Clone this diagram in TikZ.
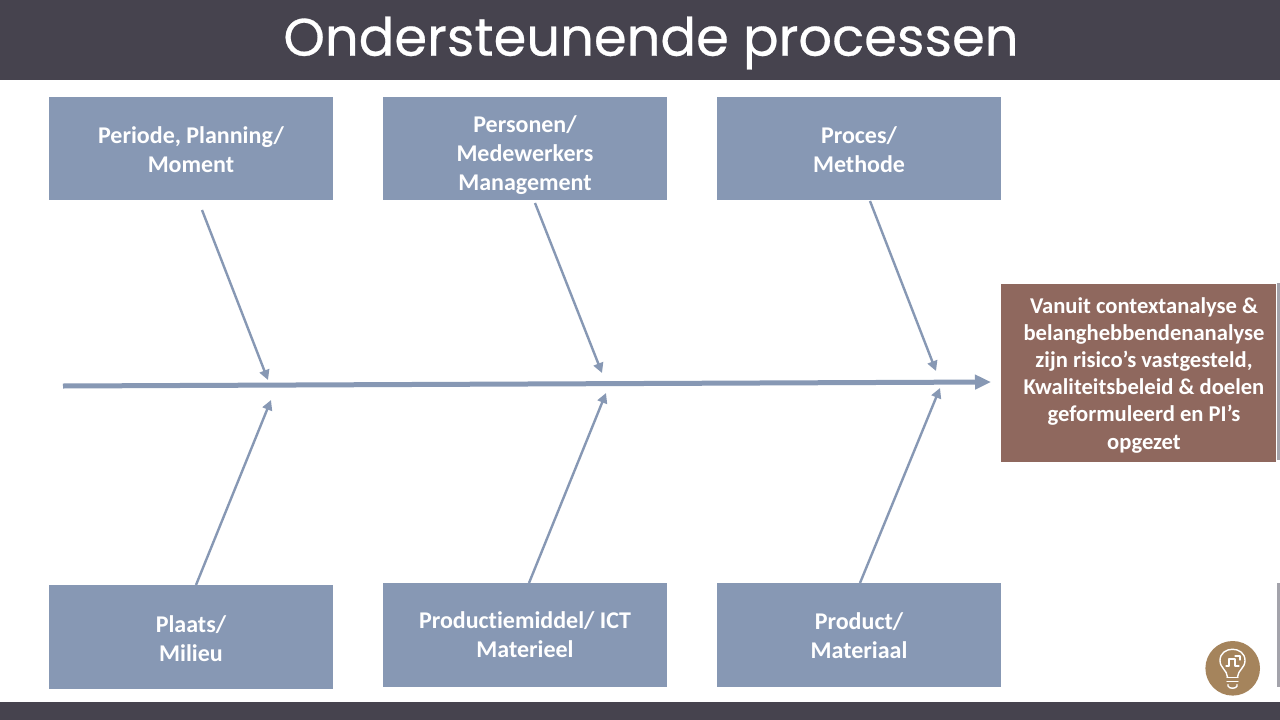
\documentclass[tikz,border=0pt]{standalone}
\usepackage{fontspec}
\setmainfont[Ligatures=NoCommon]{Carlito}
\newfontfamily\titlefont[FakeBold=0.5]{Poppins}
\usetikzlibrary{arrows.meta}
\definecolor{bar}{HTML}{46434E}
\definecolor{boxblue}{HTML}{8798B4}
\definecolor{boxbrown}{HTML}{8F685E}
\definecolor{iconbrown}{HTML}{A5845C}
\definecolor{strip}{HTML}{A3A3AB}
\tikzset{
  cat/.style={fill=boxblue,draw=none,minimum width=284pt,minimum height=103.5pt,inner sep=0pt},
  effect/.style={fill=boxbrown,draw=none,minimum width=275pt,minimum height=178pt,inner sep=0pt},
  lbl/.style={text=white,inner sep=0pt,align=center,font=\fontsize{24}{28.7}\selectfont\bfseries},
  efflbl/.style={text=white,inner sep=0pt,align=center,font=\fontsize{22.6}{27.2}\selectfont\bfseries},
  bone/.style={draw=boxblue,line width=2.4pt,-{Triangle[length=10pt,width=10pt]}},
  spine/.style={draw=boxblue,line width=5pt,-{Triangle[length=16pt,width=14pt]}},
  bandfill/.style={fill=bar,draw=none},
  iconline/.style={draw=white,line width=1.4pt,line cap=round,line join=round}
}
\begin{document}
\begin{tikzpicture}[x=1pt,y=-1pt]
\useasboundingbox (0,0) rectangle (1280,720);
\fill[white] (0,0) rectangle (1280,720);
\fill[bandfill] (0,0) rectangle (1280,80);
\fill[bandfill] (0,702) rectangle (1280,720);
\node[text=white,font=\titlefont\fontsize{52.8}{60}\selectfont,inner sep=0pt] (title) at (651,43) {Ondersteunende processen};
% strips at right edge
\fill[strip] (1277,283) rectangle (1280,460);
\fill[strip] (1277,583) rectangle (1280,687);
% category boxes
\node[cat] (a) at (191,148.5) {};
\node[lbl] (atxt) at (191,149.5) {Periode, Planning/\\Moment};
\node[cat] (b) at (525,148.5) {};
\node[lbl] (btxt) at (525,155) {Personen/\\Medewerkers\\Management};
\node[cat] (c) at (859,148.5) {};
\node[lbl] (ctxt) at (859,149.5) {Proces/\\Methode};
\node[cat] (d) at (191,637) {};
\node[lbl] (dtxt) at (191,639) {Plaats/\\Milieu};
\node[cat] (e) at (525,635) {};
\node[lbl] (etxt) at (525,635) {Productiemiddel/ ICT\\Materieel};
\node[cat] (f) at (859,635) {};
\node[lbl] (ftxt) at (859,636) {Product/\\Materiaal};
\node[effect] (g) at (1138.5,372.5) {};
\node[efflbl] (gtxt) at (1144,375) {Vanuit contextanalyse \&\\belanghebbendenanalyse\\zijn risico’s vastgesteld,\\Kwaliteitsbeleid \& doelen\\geformuleerd en PI’s\\opgezet};
% spine
\coordinate (s0) at (63,386);
\coordinate (s1) at (991,382);
\draw[spine] (s0) -- (s1);
% bones
\coordinate (a0) at (202,210); \coordinate (a1) at (268,380);
\coordinate (b0) at (535,203); \coordinate (b1) at (602,373);
\coordinate (c0) at (870,201); \coordinate (c1) at (936,371);
\coordinate (d0) at (196,585); \coordinate (d1) at (271,400);
\coordinate (e0) at (529,583); \coordinate (e1) at (606,393);
\coordinate (f0) at (860,583); \coordinate (f1) at (940,388);
\foreach \p in {a,b,c,d,e,f}{\draw[bone] (\p0) -- (\p1);}
% icon
\fill[iconbrown] (1232.7,668.3) circle (27.3);
\draw[iconline] (1227.5,677) .. controls (1227,670) and (1220,668) .. (1220,660.5) .. controls (1220,645.5) and (1245,645.5) .. (1245,660.5) .. controls (1245,668) and (1238,670) .. (1237.5,677);
\draw[iconline] (1227,677.5) -- (1238,677.5);
\draw[iconline] (1227,681.5) -- (1238,681.5);
\draw[iconline] (1228,684.5) -- (1228,686) .. controls (1229,689) and (1236,689) .. (1237,686) -- (1237,684.5);
\draw[iconline,line width=1.1pt] (1226,666) -- (1229,666) -- (1229,659) -- (1235,659) -- (1235,666) -- (1239,666);
\draw[iconline,line width=1.1pt] (1235,656) -- (1240,656) -- (1240,660);
\end{tikzpicture}
\end{document}
